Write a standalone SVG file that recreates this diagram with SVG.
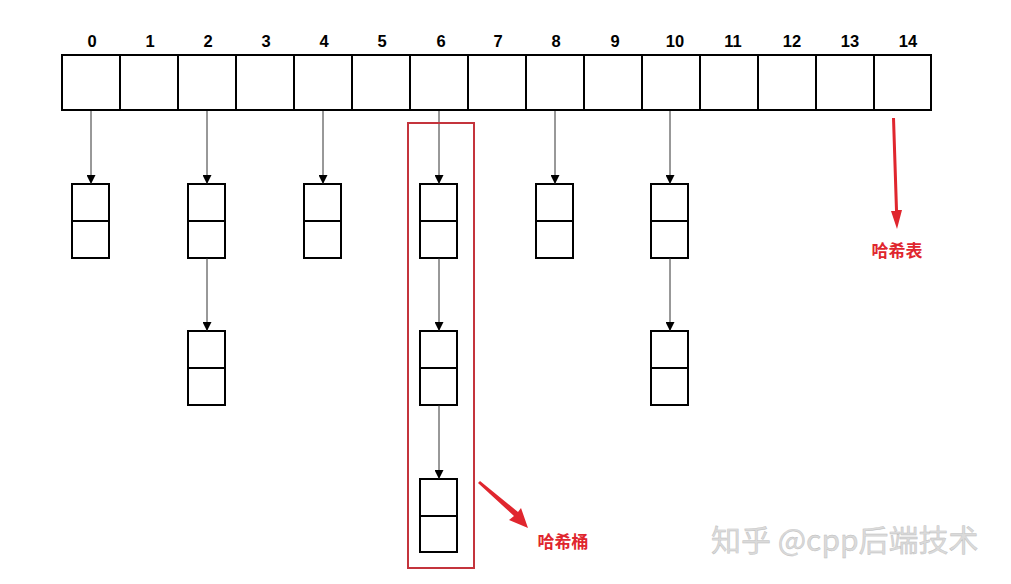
<svg xmlns="http://www.w3.org/2000/svg" width="1011" height="584" viewBox="0 0 1011 584">
<style>
.cell{fill:#fff;stroke:#000;stroke-width:2}
.idx{font-family:"Liberation Sans",Arial,sans-serif;font-weight:bold;font-size:16.5px;fill:#000;text-anchor:middle}
.node rect{fill:#fff;stroke:#000;stroke-width:2}
.node line{stroke:#000;stroke-width:2}
.conn line{stroke:#333;stroke-width:1}
.red{font-family:"Noto Sans CJK SC",sans-serif;font-weight:bold;font-size:17px;fill:#e0262e;text-anchor:middle}
.wm{font-family:"Noto Sans CJK SC",sans-serif;font-size:30px;fill:#dadada;stroke:#bcbcbc;stroke-width:0.4}
</style>
<defs>
<marker id="ah" viewBox="0 0 10 10" refX="10" refY="5" markerWidth="9" markerHeight="9" markerUnits="userSpaceOnUse" orient="auto">
<path d="M0,0 L10,5 L0,10 z" fill="#000"/>
</marker>
</defs>
<rect width="1011" height="584" fill="#fff"/>
<g id="table">
<rect class="cell" x="62" y="55" width="58" height="55"/>
<rect class="cell" x="120" y="55" width="58" height="55"/>
<rect class="cell" x="178" y="55" width="58" height="55"/>
<rect class="cell" x="236" y="55" width="58" height="55"/>
<rect class="cell" x="294" y="55" width="58" height="55"/>
<rect class="cell" x="352" y="55" width="58" height="55"/>
<rect class="cell" x="410" y="55" width="58" height="55"/>
<rect class="cell" x="468" y="55" width="58" height="55"/>
<rect class="cell" x="526" y="55" width="58" height="55"/>
<rect class="cell" x="584" y="55" width="58" height="55"/>
<rect class="cell" x="642" y="55" width="58" height="55"/>
<rect class="cell" x="700" y="55" width="58" height="55"/>
<rect class="cell" x="758" y="55" width="58" height="55"/>
<rect class="cell" x="816" y="55" width="58" height="55"/>
<rect class="cell" x="874" y="55" width="57" height="55"/>
<text class="idx" x="92" y="47">0</text>
<text class="idx" x="150" y="47">1</text>
<text class="idx" x="208" y="47">2</text>
<text class="idx" x="266" y="47">3</text>
<text class="idx" x="324" y="47">4</text>
<text class="idx" x="382" y="47">5</text>
<text class="idx" x="441" y="47">6</text>
<text class="idx" x="498" y="47">7</text>
<text class="idx" x="556" y="47">8</text>
<text class="idx" x="615" y="47">9</text>
<text class="idx" x="675" y="47">10</text>
<text class="idx" x="733" y="47">11</text>
<text class="idx" x="792" y="47">12</text>
<text class="idx" x="850" y="47">13</text>
<text class="idx" x="908" y="47">14</text>
</g>
<g id="n0" class="node"><rect x="72" y="184" width="37" height="74"/><line x1="72" y1="221" x2="109" y2="221"/></g>
<g id="n2a" class="node"><rect x="188" y="184" width="37" height="74"/><line x1="188" y1="221" x2="225" y2="221"/></g>
<g id="n2b" class="node"><rect x="188" y="331" width="37" height="74"/><line x1="188" y1="368" x2="225" y2="368"/></g>
<g id="n4" class="node"><rect x="304" y="184" width="37" height="74"/><line x1="304" y1="221" x2="341" y2="221"/></g>
<g id="n6a" class="node"><rect x="420" y="184" width="37" height="74"/><line x1="420" y1="221" x2="457" y2="221"/></g>
<g id="n6b" class="node"><rect x="420" y="331" width="37" height="74"/><line x1="420" y1="368" x2="457" y2="368"/></g>
<g id="n6c" class="node"><rect x="420" y="479" width="37" height="73"/><line x1="420" y1="516" x2="457" y2="516"/></g>
<g id="n8" class="node"><rect x="536" y="184" width="37" height="74"/><line x1="536" y1="221" x2="573" y2="221"/></g>
<g id="n10a" class="node"><rect x="651" y="184" width="37" height="74"/><line x1="651" y1="221" x2="688" y2="221"/></g>
<g id="n10b" class="node"><rect x="651" y="331" width="37" height="74"/><line x1="651" y1="368" x2="688" y2="368"/></g>
<g id="connectors" class="conn">
<line x1="91" y1="111" x2="91" y2="184" marker-end="url(#ah)"/>
<line x1="207" y1="111" x2="207" y2="184" marker-end="url(#ah)"/>
<line x1="207" y1="258" x2="207" y2="331" marker-end="url(#ah)"/>
<line x1="323" y1="111" x2="323" y2="184" marker-end="url(#ah)"/>
<line x1="439" y1="111" x2="439" y2="184" marker-end="url(#ah)"/>
<line x1="439" y1="258" x2="439" y2="331" marker-end="url(#ah)"/>
<line x1="439" y1="405" x2="439" y2="479" marker-end="url(#ah)"/>
<line x1="555" y1="111" x2="555" y2="184" marker-end="url(#ah)"/>
<line x1="670" y1="111" x2="670" y2="184" marker-end="url(#ah)"/>
<line x1="670" y1="258" x2="670" y2="331" marker-end="url(#ah)"/>
</g>
<g id="bucket-highlight">
<rect x="408" y="123" width="66" height="445" fill="none" stroke="#c4343c" stroke-width="2"/>
</g>
<g id="annotations">
<path d="M892,118 L895,118 L898,210 L902,210 L897,229 L891,211 L895,211 z" fill="#e0262e"/>
<text class="red" x="897" y="257">哈希表</text>
<path d="M478,483 L480,481 L518,512 L521,508 L528,528 L509,520 L514,516 z" fill="#e0262e"/>
<text class="red" x="563" y="548">哈希桶</text>
<text class="wm" x="711" y="551">知乎 @cpp后端技术</text>
</g>
</svg>
